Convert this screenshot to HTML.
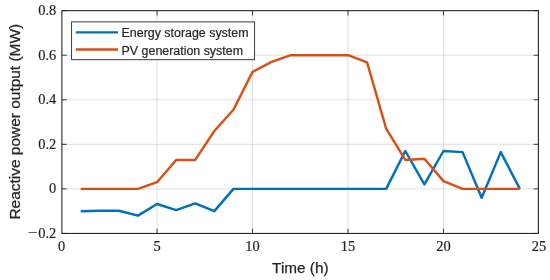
<!DOCTYPE html>
<html><head><meta charset="utf-8"><title>Reactive power output</title>
<style>
html,body{margin:0;padding:0;background:#fff;}
svg{display:block;}
.tk{font-family:"Liberation Serif","DejaVu Serif",serif;font-size:14.4px;fill:#222;stroke:#222;stroke-width:0.18px;}
.lb{stroke:#262626;stroke-width:0.25px;}
.lg{stroke:#262626;stroke-width:0.2px;}
.sans{font-family:"Liberation Sans","DejaVu Sans",sans-serif;fill:#262626;}
</style></head><body>
<svg width="550" height="280" viewBox="0 0 550 280">
<rect x="0" y="0" width="550" height="280" fill="#fff"/>
<g stroke="#262626" stroke-opacity="0.16" stroke-width="0.9" fill="none"><line x1="157.07" y1="10.65" x2="157.07" y2="233.45"/><line x1="252.54" y1="10.65" x2="252.54" y2="233.45"/><line x1="348.01" y1="10.65" x2="348.01" y2="233.45"/><line x1="443.48" y1="10.65" x2="443.48" y2="233.45"/><line x1="61.90" y1="188.89" x2="538.40" y2="188.89"/><line x1="61.90" y1="144.33" x2="538.40" y2="144.33"/><line x1="61.90" y1="99.77" x2="538.40" y2="99.77"/><line x1="61.90" y1="55.21" x2="538.40" y2="55.21"/></g>
<g fill="none" stroke-linejoin="round" stroke-linecap="butt" stroke-width="2.45">
<polyline stroke="#0070bb" points="80.69,211.17 99.79,210.72 118.88,210.72 137.98,215.63 157.07,204.04 176.16,210.06 195.26,203.37 214.35,211.17 233.45,188.89 252.54,188.89 271.63,188.89 290.73,188.89 309.82,188.89 328.92,188.89 348.01,188.89 367.10,188.89 386.20,188.89 405.29,151.01 424.39,184.43 443.48,151.01 462.57,152.13 481.67,197.80 500.76,152.13 519.86,188.89"/>
<polyline stroke="#d85015" points="80.69,188.89 99.79,188.89 118.88,188.89 137.98,188.89 157.07,182.21 176.16,159.93 195.26,159.93 214.35,130.96 233.45,109.80 252.54,71.92 271.63,61.89 290.73,55.21 309.82,55.21 328.92,55.21 348.01,55.21 367.10,62.34 386.20,128.73 405.29,159.93 424.39,158.81 443.48,181.09 462.57,188.89 481.67,188.89 500.76,188.89 519.86,188.89"/>
</g>
<g stroke="#262626" stroke-width="0.9" fill="none"><line x1="157.07" y1="233.45" x2="157.07" y2="228.65"/><line x1="157.07" y1="10.65" x2="157.07" y2="15.45"/><line x1="252.54" y1="233.45" x2="252.54" y2="228.65"/><line x1="252.54" y1="10.65" x2="252.54" y2="15.45"/><line x1="348.01" y1="233.45" x2="348.01" y2="228.65"/><line x1="348.01" y1="10.65" x2="348.01" y2="15.45"/><line x1="443.48" y1="233.45" x2="443.48" y2="228.65"/><line x1="443.48" y1="10.65" x2="443.48" y2="15.45"/><line x1="61.90" y1="233.45" x2="66.70" y2="233.45"/><line x1="538.40" y1="233.45" x2="533.60" y2="233.45"/><line x1="61.90" y1="188.89" x2="66.70" y2="188.89"/><line x1="538.40" y1="188.89" x2="533.60" y2="188.89"/><line x1="61.90" y1="144.33" x2="66.70" y2="144.33"/><line x1="538.40" y1="144.33" x2="533.60" y2="144.33"/><line x1="61.90" y1="99.77" x2="66.70" y2="99.77"/><line x1="538.40" y1="99.77" x2="533.60" y2="99.77"/><line x1="61.90" y1="55.21" x2="66.70" y2="55.21"/><line x1="538.40" y1="55.21" x2="533.60" y2="55.21"/><line x1="61.90" y1="10.65" x2="66.70" y2="10.65"/><line x1="538.40" y1="10.65" x2="533.60" y2="10.65"/></g>
<rect x="61.9" y="10.65" width="476.50" height="222.80" fill="none" stroke="#262626" stroke-width="1.1"/>
<g class="tk"><text x="61.60" y="251.4" text-anchor="middle">0</text><text x="157.07" y="251.4" text-anchor="middle">5</text><text x="252.54" y="251.4" text-anchor="middle">10</text><text x="348.01" y="251.4" text-anchor="middle">15</text><text x="443.48" y="251.4" text-anchor="middle">20</text><text x="538.95" y="251.4" text-anchor="middle">25</text><text x="56.2" y="237.75" text-anchor="end">0.2</text><text x="56.2" y="193.19" text-anchor="end">0</text><text x="56.2" y="148.63" text-anchor="end">0.2</text><text x="56.2" y="104.07" text-anchor="end">0.4</text><text x="56.2" y="59.51" text-anchor="end">0.6</text><text x="56.2" y="14.95" text-anchor="end">0.8</text><text transform="translate(37.60,237.15) scale(1.24,1)" x="0" y="0" text-anchor="end">−</text></g>
<text class="sans lb" font-size="15.3" x="300.3" y="273.3" text-anchor="middle">Time (h)</text>
<text class="sans lb" font-size="15.46" transform="translate(19.6,121.7) rotate(-90)" text-anchor="middle">Reactive power output (MW)</text>
<rect x="71.6" y="21.9" width="183" height="37.8" fill="#fff" stroke="#262626" stroke-width="0.9"/>
<line x1="75.8" y1="32.4" x2="118" y2="32.4" stroke="#0070bb" stroke-width="2.35"/>
<line x1="75.8" y1="49.5" x2="118" y2="49.5" stroke="#d85015" stroke-width="2.35"/>
<text class="sans lg" font-size="12.42" x="121.6" y="37.2">Energy storage system</text>
<text class="sans lg" font-size="12.42" x="121.6" y="54.6">PV generation system</text>
</svg>
</body></html>
